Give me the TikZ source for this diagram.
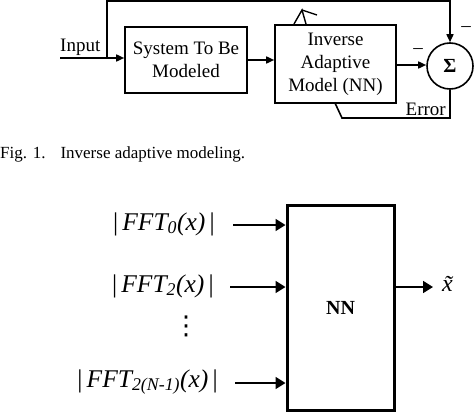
\documentclass[tikz,border=0pt]{standalone}
\usepackage{fontspec}
\setmainfont{Liberation Serif}
\newfontfamily\dvfont{DejaVu Sans}
\usetikzlibrary{arrows.meta,calc}
\begin{document}
\begin{tikzpicture}[x=1pt,y=-1pt,
  ln/.style={line width=1.6pt},
  arr/.style={ln,-{Triangle[length=8pt,width=7pt]}},
  bigarr/.style={line width=1.8pt,-{Triangle[length=10pt,width=12pt]}},
  blk/.style={draw,line width=1.6pt,inner sep=0pt,align=center,font=\fontsize{19}{23}\selectfont},
  lbl/.style={inner sep=0pt,font=\fontsize{19}{23}\selectfont},
  fft/.style={inner sep=0pt,anchor=east,font=\fontsize{25.5}{30}\selectfont}]
\useasboundingbox (0,0) rectangle (474,415);
% ---- top diagram
\node[blk,minimum width=122pt,minimum height=66pt] (sys) at (186,60) {System To Be\\Modeled};
\node[blk,minimum width=121pt,minimum height=78pt] (inv) at (335.5,64) {Inverse\\Adaptive\\Model (NN)};
\node[draw,circle,line width=1.6pt,minimum size=46pt,inner sep=0pt,font=\fontsize{20}{24}\selectfont\bfseries] (sum) at (450,66) {Σ};
\node[lbl,anchor=south west] (input) at (60,56) {Input};
\node[lbl,anchor=south east] (err) at (446,116) {Error};
\node[lbl] (m1) at (418,51) {\textendash};
\node[lbl] (m2) at (466,29) {\textendash};
\coordinate (in) at (60,58);
\coordinate (split) at (107,58);
\coordinate (top) at (450,1);
\draw[ln] (in) -- (split);
\draw[arr] (split) -- (sys.west |- split);
\draw[arr] (split) |- (top) -- (sum.north);
\draw[arr] (sys.east |- 0,60) -- (inv.west |- 0,60);
\draw[arr] (inv.east |- 0,65) -- (sum.west |- 0,65);
\coordinate (ec) at (342,118);
\coordinate (eb) at (335,103);
\draw[ln] (sum.south) |- (ec) -- (eb);
% adaptation arrow
\coordinate (ad0) at (294,24);
\coordinate (ad1) at (302,10);
\coordinate (ad2) at (306,24);
\coordinate (ad3) at (317,15);
\draw[line width=1.4pt] (ad0) -- (ad1) -- (ad2);
\draw[line width=1.4pt] (ad1) -- (ad3);
% caption
\node[inner sep=0pt,anchor=west,font=\fontsize{17}{20}\selectfont] (cap) at (0,154) {Fig. 1.\hspace{15pt}Inverse adaptive modeling.};
% ---- bottom diagram
\node[draw,line width=3pt,minimum width=107pt,minimum height=205pt,inner sep=0pt,font=\fontsize{20}{24}\selectfont\bfseries] (nn) at (340.5,307.5) {NN};
\node[fft] (f0) at (215,224) {|\,\textit{FFT\textsubscript{0}(x)}\,|};
\node[fft] (f2) at (214,286) {|\,\textit{FFT\textsubscript{2}(x)}\,|};
\node[fft] (fn) at (218,382) {|\,\textit{FFT\textsubscript{2(N-1)}(x)}\,|};
\node[inner sep=0pt,font=\dvfont\fontsize{26}{30}\selectfont] (dots) at (186,326) {⋮};
\node[inner sep=0pt,anchor=west,font=\fontsize{24}{28}\selectfont] (out) at (442,284) {\textit{x̃}};
\coordinate (oe) at (433,287);
\draw[bigarr,shorten <=18pt] (f0.east |- 0,225) -- (nn.west |- 0,225);
\draw[bigarr,shorten <=16pt] (f2.east |- 0,287) -- (nn.west |- 0,287);
\draw[bigarr,shorten <=17pt] (fn.east |- 0,383) -- (nn.west |- 0,383);
\draw[bigarr] (nn.east |- oe) -- (oe);
\end{tikzpicture}
\end{document}
